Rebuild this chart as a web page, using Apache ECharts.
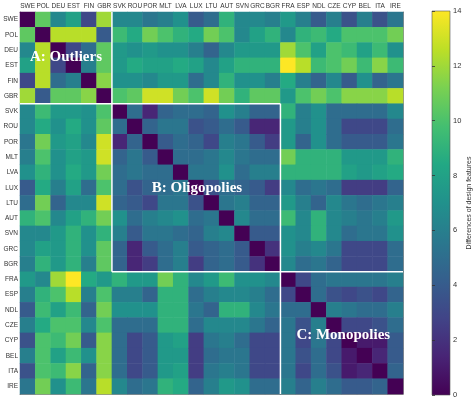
<!DOCTYPE html>
<html>
<head>
<meta charset="utf-8">
<script src="https://cdn.jsdelivr.net/npm/echarts@6/dist/echarts.min.js"></script>
<style>
html,body{margin:0;padding:0;background:#fff;}
#chart{width:474px;height:399px;}
</style>
</head>
<body>
<div id="chart"></div>
<script>
// Country order (rows top->bottom, columns left->right)
const countries = ['SWE','POL','DEU','EST','FIN','GBR','SVK','ROU','POR','MLT','LVA','LUX','LTU','AUT','SVN','GRC','BGR','FRA','ESP','NDL','CZE','CYP','BEL','ITA','IRE'];

// Upper-triangle values (row country vs. each later country), matrix is symmetric, diagonal 0
const upSWE = [10.5, 6.5, 8, 3, 12, 6.5, 6.5, 5.5, 6, 7, 4, 5, 9, 6.5, 6.5, 6, 7.5, 6, 4, 6, 3.5, 6, 3.5, 5.5];
const upPOL = [12.5, 12.5, 12.5, 4, 9.5, 8.5, 11, 10, 9, 8.5, 11, 10, 6.5, 8, 9, 6.5, 9, 9.5, 8.5, 10, 10, 10, 11];
const upDEU = [3, 5, 10.5, 7.5, 7, 7.5, 7, 7, 6, 4.5, 6.5, 7.5, 7.5, 7.5, 12, 10, 8, 10, 9.5, 8, 9.5, 7];
const upEST = [6, 10.5, 7.5, 8.5, 8, 8, 8.5, 8, 6.5, 8, 9, 9, 9, 14, 12.5, 9.5, 10, 11, 9.5, 11.5, 9.5];
const upFIN = [11.5, 7, 7, 6.5, 7.5, 7.5, 5, 6.5, 9, 7, 7, 6, 8.5, 6, 4.5, 6.5, 4, 7, 4.5, 5.5];
const upGBR = [10, 10.5, 13, 13, 11, 10, 13, 11, 9, 10.5, 10.5, 7.5, 10, 11, 10, 11.5, 11.5, 11.5, 12.5];
const upSVK = [5, 1.5, 4.5, 5, 5, 4.5, 7, 6, 4.5, 4.5, 9, 6, 7, 5, 5, 5, 5, 6.5];
const upROU = [4.5, 5.5, 5.5, 3.5, 4, 5, 4, 1.5, 1.5, 7.5, 6, 7, 5, 3, 3, 3, 5];
const upPOR = [4, 5, 4.5, 3, 6, 5.5, 4, 2.5, 7.5, 4.5, 7, 5, 4, 4, 4, 5.5];
const upMLT = [5, 5, 5.5, 6.5, 5.5, 5, 5, 11, 9, 9, 9, 7.5, 7.5, 7.5, 9];
const upLVA = [5.5, 5.5, 7, 5, 6, 6, 9, 9, 9, 9, 8, 7.5, 8, 8.5];
const upLUX = [3.5, 5, 4.5, 4, 2.5, 6.5, 5, 5.5, 5, 2.5, 2.5, 2.5, 4.5];
const upLTU = [5.5, 6, 4.5, 4.5, 7.5, 6, 4.5, 6.5, 5.5, 5, 5.5, 6];
const upAUT = [6.5, 5, 5, 9.5, 6.5, 9, 6.5, 6, 5.5, 6, 7.5];
const upSVN = [4, 4, 7, 6.5, 9, 6.5, 5, 5.5, 5.5, 7];
const upGRC = [2, 7, 6, 6.5, 5.5, 3, 3, 3, 5];
const upBGR = [6.5, 5, 5.5, 4.5, 3, 3, 3, 5];
const upFRA = [3, 5, 5.5, 5.5, 5.5, 5.5, 6];
const upESP = [5, 3.5, 3, 3.5, 3, 4.5];
const upNDL = [6, 5.5, 5, 5, 6];
const upCZE = [3, 3, 3.5, 5];
const upCYP = [1, 1, 4];
const upBEL = [1.5, 4];
const upITA = [4.5];
const upIRE = [];

// Colour bar ticks and cluster boundaries (index positions)
const colorTicks = [0, 2, 4, 6, 8, 10, 12, 14];
const groupBounds = [0, 6, 17, 25];
const groupLabels = ['A: Outliers', 'B: Oligopolies', 'C: Monopolies'];

const upper = [upSWE, upPOL, upDEU, upEST, upFIN, upGBR, upSVK, upROU, upPOR, upMLT, upLVA, upLUX, upLTU, upAUT, upSVN, upGRC, upBGR, upFRA, upESP, upNDL, upCZE, upCYP, upBEL, upITA, upIRE];

const n = countries.length;
const M = [];
for (let i = 0; i < n; i++) { M.push(new Array(n).fill(0)); }
for (let i = 0; i < n; i++) {
  for (let k = 0; k < upper[i].length; k++) {
    const j = i + 1 + k;
    M[i][j] = upper[i][k];
    M[j][i] = upper[i][k];
  }
}
const heatData = [];
for (let i = 0; i < n; i++) for (let j = 0; j < n; j++) heatData.push([j, i, M[i][j]]);

const viridis = ['#440154','#482475','#414487','#355f8d','#2a788e','#21918c','#22a884','#44bf70','#7ad151','#bddf26','#fde725'];
const cmin = colorTicks[0], cmax = colorTicks[colorTicks.length - 1];

// white cluster boxes in index space
const b = groupBounds;
const boxPaths = [
  [[b[0], b[1]], [b[2], b[1]]],
  [[b[1], b[0]], [b[1], b[2]]],
  [[b[1], b[2]], [b[3], b[2]]],
  [[b[2], b[1]], [b[2], b[3]]]
];

const chart = echarts.init(document.getElementById('chart'), null, {renderer: 'canvas'});
const axisLineStyle = {color: '#444', width: 0.6};
const labelFont = {fontSize: 6.5, color: '#333', fontFamily: 'Liberation Sans, Arial, sans-serif'};

const option = {
  animation: false,
  backgroundColor: '#fff',
  grid: [
    {left: 20, top: 12, width: 383, height: 382},
    {left: 432, top: 11, width: 19, height: 384, show: true,
     backgroundColor: new echarts.graphic.LinearGradient(0, 1, 0, 0,
       viridis.map((c, k) => ({offset: k / (viridis.length - 1), color: c}))),
     borderColor: '#555', borderWidth: 0.6}
  ],
  xAxis: [
    {type: 'category', gridIndex: 0, position: 'top', data: countries,
     axisLine: {show: true, lineStyle: axisLineStyle},
     axisTick: {alignWithLabel: true, length: 2.5, lineStyle: {color: '#333'}},
     axisLabel: Object.assign({margin: 2, interval: 0}, labelFont),
     splitLine: {show: false}},
    {type: 'category', gridIndex: 0, position: 'bottom', data: countries,
     axisLine: {show: true, lineStyle: axisLineStyle},
     axisTick: {alignWithLabel: true, length: 2.5, lineStyle: {color: '#333'}},
     axisLabel: {show: false}, splitLine: {show: false}},
    {type: 'value', gridIndex: 0, min: 0, max: n, show: false},
    {type: 'value', gridIndex: 1, min: 0, max: 1, show: false}
  ],
  yAxis: [
    {type: 'category', gridIndex: 0, position: 'left', inverse: true, data: countries,
     axisLine: {show: true, lineStyle: axisLineStyle},
     axisTick: {alignWithLabel: true, length: 2.5, lineStyle: {color: '#333'}},
     axisLabel: Object.assign({margin: 2, interval: 0}, labelFont),
     splitLine: {show: false}},
    {type: 'category', gridIndex: 0, position: 'right', inverse: true, data: countries,
     axisLine: {show: true, lineStyle: axisLineStyle},
     axisTick: {show: false}, axisLabel: {show: false}, splitLine: {show: false}},
    {type: 'value', gridIndex: 0, min: 0, max: n, inverse: true, show: false},
    {type: 'value', gridIndex: 1, position: 'right', min: cmin, max: cmax, interval: 2,
     axisLine: {show: false},
     axisTick: {show: true, length: 3, lineStyle: {color: '#333', width: 0.8}},
     axisLabel: {fontSize: 7.5, color: '#333', margin: 3, fontFamily: 'Liberation Sans, Arial, sans-serif'},
     splitLine: {show: false},
     name: 'Differences of design features', nameLocation: 'middle', nameRotate: 90, nameGap: 16,
     nameTextStyle: {fontSize: 7, color: '#333', fontFamily: 'Liberation Sans, Arial, sans-serif'}}
  ],
  visualMap: {
    type: 'continuous', min: cmin, max: cmax, seriesIndex: 0, show: false,
    inRange: {color: viridis}
  },
  series: [
    {type: 'heatmap', xAxisIndex: 0, yAxisIndex: 0, data: heatData, silent: true,
     itemStyle: {borderWidth: 0}, progressive: 0}
  ].concat(boxPaths.map(p => ({
    type: 'line', xAxisIndex: 2, yAxisIndex: 2, data: p, symbol: 'none', silent: true,
    lineStyle: {color: '#ffffff', width: 1.5}, z: 5
  })))
};
chart.setOption(option);

// cluster labels placed at cluster-relative positions through the index axes
const labelPos = [[3.0, 2.95], [11.55, 11.5], [21.1, 21.15]];
const gfx = groupLabels.map((t, k) => {
  const p = chart.convertToPixel({xAxisIndex: 2, yAxisIndex: 2}, labelPos[k]);
  return {type: 'text', x: p[0], y: p[1], z: 10, silent: true,
    style: {text: t, fill: '#ffffff', font: 'bold 15px "Liberation Serif", "Times New Roman", serif',
            textAlign: 'center', textVerticalAlign: 'middle'}};
});
chart.setOption({graphic: gfx});
</script>
</body>
</html>
